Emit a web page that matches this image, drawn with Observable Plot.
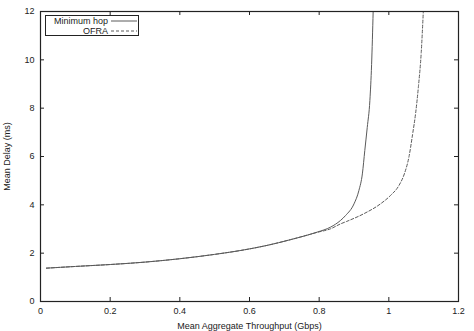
<!DOCTYPE html>
<html><head><meta charset="utf-8">
<script src="https://cdn.jsdelivr.net/npm/d3@7"></script>
<script src="https://cdn.jsdelivr.net/npm/@observablehq/plot@0.6"></script>
<style>
body{margin:0;background:#fff;}
#wrap{position:relative;width:474px;height:331px;font-family:"Liberation Sans",Arial,sans-serif;}
#legend{position:absolute;left:45px;top:15px;width:92px;height:19px;border:1px solid #222;background:#fff;font-size:9px;color:#222;}
.row{position:absolute;left:0;width:92px;height:10px;}
.lab{position:absolute;right:30px;top:0;line-height:10px;white-space:nowrap;}
.row svg{position:absolute;left:65px;top:0;}
</style></head>
<body><div id="wrap"></div>
<script>
const seriesNames = ["Minimum hop", "OFRA"];
const minHopX = [0.017, 0.1, 0.2, 0.3, 0.4, 0.5, 0.574, 0.65, 0.718, 0.794, 0.833, 0.861, 0.876, 0.9, 0.914, 0.924, 0.931, 0.938, 0.9456, 0.9505, 0.955];
const minHopY = [1.38, 1.45, 1.53, 1.63, 1.77, 1.95, 2.11, 2.32, 2.56, 2.87, 3.08, 3.35, 3.56, 4.04, 4.59, 5.28, 6.25, 7.2, 8.32, 9.8, 12];
const ofraX = [0.017, 0.1, 0.2, 0.3, 0.4, 0.5, 0.574, 0.65, 0.718, 0.794, 0.833, 0.861, 0.88, 0.928, 0.976, 1.005, 1.029, 1.045, 1.058, 1.068, 1.077, 1.085, 1.093, 1.099];
const ofraY = [1.38, 1.45, 1.53, 1.63, 1.77, 1.95, 2.11, 2.32, 2.56, 2.86, 3.01, 3.21, 3.32, 3.63, 4.04, 4.39, 4.8, 5.3, 6.0, 6.9, 7.8, 8.9, 10.3, 12];
const xTicks = [0, 0.2, 0.4, 0.6, 0.8, 1, 1.2];
const yTicks = [0, 2, 4, 6, 8, 10, 12];

const minHop = minHopX.map((x, i) => ({x, y: minHopY[i]}));
const ofra = ofraX.map((x, i) => ({x, y: ofraY[i]}));

const W = 474, H = 331, mt = 11, mb = 30, ml = 40, mr = 16;
const ph = H - mt - mb, pw = W - ml - mr;
const lineColor = "#5a5a5a";

const chart = Plot.plot({
  width: W, height: H,
  marginTop: mt, marginBottom: mb, marginLeft: ml, marginRight: mr,
  style: {fontFamily: '"Liberation Sans", Arial, sans-serif', fontSize: "9px", color: "#222", background: "#fff"},
  x: {domain: [0, 1.2]},
  y: {domain: [0, 12]},
  marks: [
    Plot.ruleX(xTicks, {stroke: "#222", insetTop: ph - 4}),
    Plot.ruleX(xTicks, {stroke: "#222", insetBottom: ph - 4}),
    Plot.ruleY(yTicks, {stroke: "#222", insetRight: pw - 4}),
    Plot.ruleY(yTicks, {stroke: "#222", insetLeft: pw - 4}),
    Plot.axisX(xTicks, {tickSize: 0, tickPadding: 6, label: "Mean Aggregate Throughput (Gbps)", labelAnchor: "center", labelArrow: "none", labelOffset: 27, tickFormat: d => String(d)}),
    Plot.axisY(yTicks, {tickSize: 0, tickPadding: 6, label: "Mean Delay (ms)", labelAnchor: "center", labelArrow: "none", labelOffset: 37, tickFormat: d => String(d)}),
    Plot.line(minHop, {x: "x", y: "y", stroke: lineColor, strokeWidth: 1, curve: "monotone-x"}),
    Plot.line(ofra, {x: "x", y: "y", stroke: lineColor, strokeWidth: 1, strokeDasharray: "3,2", curve: "monotone-x"}),
    Plot.frame({stroke: "#222", strokeWidth: 1.2})
  ]
});
const wrap = document.getElementById("wrap");
wrap.appendChild(chart);

const legend = document.createElement("div");
legend.id = "legend";
const dashes = [null, "3,2"];
seriesNames.forEach((name, i) => {
  const row = document.createElement("div");
  row.className = "row";
  row.style.top = (i * 10 + 0) + "px";
  row.innerHTML = `<span class="lab">${name}</span><svg width="26" height="10"><line x1="0" x2="26" y1="5" y2="5" stroke="${lineColor}" stroke-width="1" ${dashes[i] ? `stroke-dasharray="${dashes[i]}"` : ""}/></svg>`;
  legend.appendChild(row);
});
wrap.appendChild(legend);
</script>
</body></html>
